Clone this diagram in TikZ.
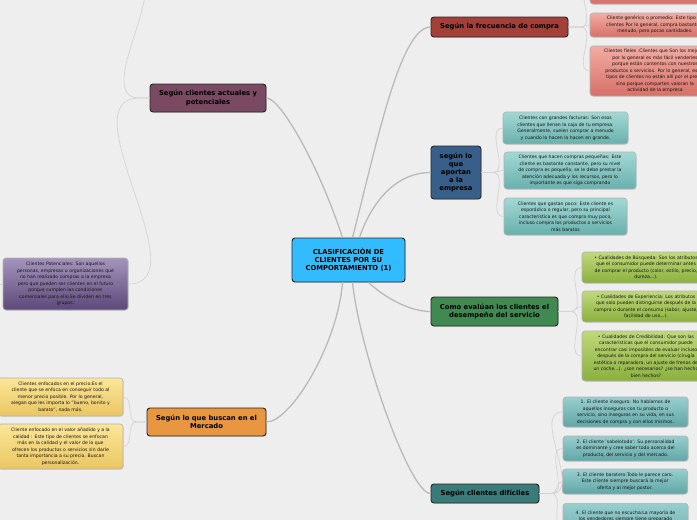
\documentclass[tikz,border=0pt]{standalone}
\usepackage{fontspec}
\setmainfont{DejaVu Sans}
\usetikzlibrary{positioning,shadows}
\definecolor{bgc}{RGB}{238,238,238}
\definecolor{ctrc}{RGB}{51,187,255}
\definecolor{purc}{RGB}{122,74,98}
\definecolor{redc}{RGB}{163,64,58}
\definecolor{bluc}{RGB}{56,94,138}
\definecolor{grnc}{RGB}{64,138,82}
\definecolor{orac}{RGB}{232,150,64}
\definecolor{tealc}{RGB}{58,122,120}
\definecolor{redA}{RGB}{242,172,162}
\definecolor{redB}{RGB}{214,112,104}
\definecolor{aquA}{RGB}{162,216,212}
\definecolor{aquB}{RGB}{104,176,172}
\definecolor{grnA}{RGB}{192,216,122}
\definecolor{grnB}{RGB}{138,176,62}
\definecolor{tlA}{RGB}{152,206,206}
\definecolor{tlB}{RGB}{96,166,166}
\definecolor{yelA}{RGB}{251,230,152}
\definecolor{yelB}{RGB}{234,198,98}
\definecolor{purA}{RGB}{164,148,188}
\definecolor{purB}{RGB}{92,72,122}

\begin{document}
\begin{tikzpicture}[x=1pt, y=1pt, font=\fontsize{4.6}{6.5}\selectfont]
\tikzstyle{topic}=[draw=black!85, line width=0.9pt, rounded corners=3pt, align=center, inner sep=2pt, font=\fontsize{6.8}{8.2}\selectfont\bfseries, drop shadow={opacity=0.2, shadow xshift=0.8pt, shadow yshift=-0.8pt}]
\tikzstyle{leaf}=[draw=black!30, line width=0.6pt, rounded corners=3pt, align=center, inner sep=1.5pt, text=black!92, drop shadow={opacity=0.15, shadow xshift=0.8pt, shadow yshift=-0.8pt}]
\tikzstyle{link}=[draw=black!27, line width=1.3pt]
\tikzstyle{sublink}=[draw=black!17, line width=0.7pt]
\tikzstyle{rfork}=[out=0, in=180]
\tikzstyle{lfork}=[out=180, in=0]
\fill[bgc] (0,0) rectangle (697,-520);
\useasboundingbox (0,0) rectangle (697,-520);

\node[topic, fill=ctrc, minimum width=113, minimum height=44] (ctr) at (348.5,-260) {CLASIFICACIÒN DE\\CLIENTES POR SU\\COMPORTAMIENTO (1)};
\node[topic, fill=purc, minimum width=116, minimum height=28] (act) at (208,-98) {Según clientes actuales y\\potenciales};
\node[topic, fill=redc, minimum width=137, minimum height=20] (freq) at (499.5,-27) {Según la frecuencia de compra};
\node[topic, fill=bluc, minimum width=50, minimum height=53] (apo) at (456,-172.5) {según lo\\que\\aportan\\a la\\empresa};
\node[topic, fill=grnc, minimum width=127, minimum height=29] (eva) at (494.5,-311.5) {Como evalúan los clientes el\\desempeño del servicio};
\node[topic, fill=orac, minimum width=119, minimum height=28] (bus) at (206.5,-422) {Según lo que buscan en el\\Mercado};
\node[topic, fill=tealc, minimum width=108, minimum height=19] (dif) at (485,-493.5) {Según clientes difíciles};

\node[leaf, top color=redA, bottom color=redB, minimum width=130, minimum height=38] (f0) at (655,15) {};
\node[leaf, top color=redA, bottom color=redB, minimum width=130, minimum height=24] (f1) at (655,-25) {Cliente genérico o promedio: Este tipo de\\clientes Por lo general, compra bastante a\\menudo, pero pocas cantidades.};
\node[leaf, top color=redA, bottom color=redB, minimum width=130, minimum height=50] (f2) at (655,-71) {Clientes fieles :Clientes que Son los mejores\\por lo general es más fácil venderles\\porque están contentos con nuestros\\productos o servicios. Por lo general, estos\\tipos de clientes no están allí por el precio\\sino porque comparten valoran la\\actividad de la empresa};

\node[leaf, top color=aquA, bottom color=aquB, minimum width=125, minimum height=32] (a1) at (565.5,-128) {Clientes con grandes facturas: Son esos\\clientes que llenan la caja de tu empresa.\\Generalmente, suelen comprar a menudo\\y cuando lo hacen lo hacen en grande.};
\node[leaf, top color=aquA, bottom color=aquB, minimum width=132, minimum height=37] (a2) at (570,-170.5) {Clientes que hacen compras pequeñas: Este\\cliente es bastante constante, pero su nivel\\de compra es pequeño, se le debe prestar la\\atención adecuada y los recursos, pero lo\\importante es que siga comprando};
\node[leaf, top color=aquA, bottom color=aquB, minimum width=123, minimum height=37] (a3) at (565.5,-216.5) {Clientes que gastan poco: Este cliente es\\esporádico o regular, pero su principal\\característica es que compra muy poco,\\incluso compra los productos o servicios\\más baratos};

\node[leaf, top color=grnA, bottom color=grnB, minimum width=128, minimum height=31] (g1) at (646,-267.5) {• Cualidades de Búsqueda: Son los atributos\\que el consumidor puede determinar antes\\de comprar el producto (color, estilo, precio,\\dureza...).};
\node[leaf, top color=grnA, bottom color=grnB, minimum width=128, minimum height=31] (g2) at (646,-306.5) {• Cualidades de Experiencia: Los atributos\\que solo pueden distinguirse después de la\\compra o durante el consumo (sabor, ajuste,\\facilidad de uso...).};
\node[leaf, top color=grnA, bottom color=grnB, minimum width=128, minimum height=50] (g3) at (646,-356) {• Cualidades de Credibilidad: Que son las\\características que el consumidor puede\\encontrar casi imposibles de evaluar incluso\\después de la compra del servicio (cirugía\\estética o reparadora, un ajuste de frenos de\\un coche...). ¿son necesarios? ¿se han hecho\\bien hechos?};

\node[leaf, top color=tlA, bottom color=tlB, minimum width=125, minimum height=30] (d1) at (625.5,-412) {1. El cliente inseguro: No hablamos de\\aquellos inseguros con tu producto o\\servicio, sino inseguros en su vida, en sus\\decisiones de compra y con ellos mismos.};
\node[leaf, top color=tlA, bottom color=tlB, minimum width=125, minimum height=25] (d2) at (625.5,-448.5) {2. El cliente 'sabelotodo': Su personalidad\\es dominante y cree saber todo acerca del\\producto, del servicio y del mercado.};
\node[leaf, top color=tlA, bottom color=tlB, minimum width=125, minimum height=25] (d3) at (625,-481.5) {3. El cliente baratero:Todo le parece caro.\\Este cliente siempre buscará la mejor\\oferta y al mejor postor.};
\node[leaf, top color=tlA, bottom color=tlB, minimum width=125, minimum height=44, anchor=north] (d4) at (625.5,-503) {4. El cliente que no escucha:La mayoría de\\los vendedores siempre tiene preparado\\\\\\};

\node[leaf, top color=yelA, bottom color=yelB, minimum width=125, minimum height=38] (y1) at (60.5,-397) {Clientes enfocados en el precio:Es el\\cliente que se enfoca en conseguir todo al\\menor precio posible. Por lo general,\\alegan que les importa lo "bueno, bonito y\\barato", nada más.};
\node[leaf, top color=yelA, bottom color=yelB, minimum width=125, minimum height=45] (y2) at (60.5,-446.5) {Cliente enfocado en el valor añadido y a la\\calidad : Este tipo de clientes se enfocan\\más en la calidad y el valor de lo que\\ofrecen los productos o servicios sin darle\\tanta importancia a su precio. Buscan\\personalización.};

\node[leaf, top color=purA, bottom color=purB, minimum width=125, minimum height=52] (pot) at (65.5,-284) {Clientes Potenciales: Son aquellos\\personas, empresas u organizaciones que\\no han realizado compras a la empresa\\pero que pueden ser clientes en el futuro\\porque cumplen las condiciones\\comerciales para ello.Se dividen en tres\\grupos:};
\coordinate (cact) at (130,30);
\coordinate (cpot) at (-10,-284);

\draw[link] ([xshift=-6]ctr.north) .. controls +(-24,73) and +(14,0) .. (act.east);
\draw[link] ([xshift=4]ctr.north) .. controls +(23,88) and +(-31,0) .. (freq.west);
\draw[link] ([xshift=11]ctr.north) .. controls +(11,33) and +(-36,0) .. (apo.west);
\draw[link] ([xshift=-6]ctr.south) .. controls +(-5,-63) and +(24,0) .. (bus.east);
\draw[link] ([xshift=4]ctr.south) .. controls +(7,-68) and +(-21,0) .. (dif.west);
\draw[link] ([xshift=20]ctr.south) .. controls +(16,-15) and +(-21,0) .. (eva.west);

\draw[sublink] (act.west) -- ++(-10,0) to[lfork] (cact);
\draw[sublink] (act.west) -- ++(-10,0) to[lfork] (pot.east);
\draw[sublink] (pot.west) -- (cpot);
\draw[sublink] (bus.west) -- ++(-10,0) to[lfork] (y1.east);
\draw[sublink] (bus.west) -- ++(-10,0) to[lfork] (y2.east);
\draw[sublink] (freq.east) -- ++(12,0) to[rfork] (f0.west);
\draw[sublink] (freq.east) -- ++(12,0) to[rfork] (f1.west);
\draw[sublink] (freq.east) -- ++(12,0) to[rfork] (f2.west);
\draw[sublink] (apo.east) -- ++(11,0) to[rfork] (a1.west);
\draw[sublink] (apo.east) -- ++(11,0) to[rfork] (a2.west);
\draw[sublink] (apo.east) -- ++(11,0) to[rfork] (a3.west);
\draw[sublink] (eva.east) -- ++(12,0) to[rfork] (g1.west);
\draw[sublink] (eva.east) -- ++(12,0) to[rfork] (g2.west);
\draw[sublink] (eva.east) -- ++(12,0) to[rfork] (g3.west);
\draw[sublink] (dif.east) -- ++(12,0) to[rfork] (d1.west);
\draw[sublink] (dif.east) -- ++(12,0) to[rfork] (d2.west);
\draw[sublink] (dif.east) -- ++(12,0) to[rfork] (d3.west);
\draw[sublink] (dif.east) -- ++(12,0) to[rfork] (d4.west);
\end{tikzpicture}
\end{document}
